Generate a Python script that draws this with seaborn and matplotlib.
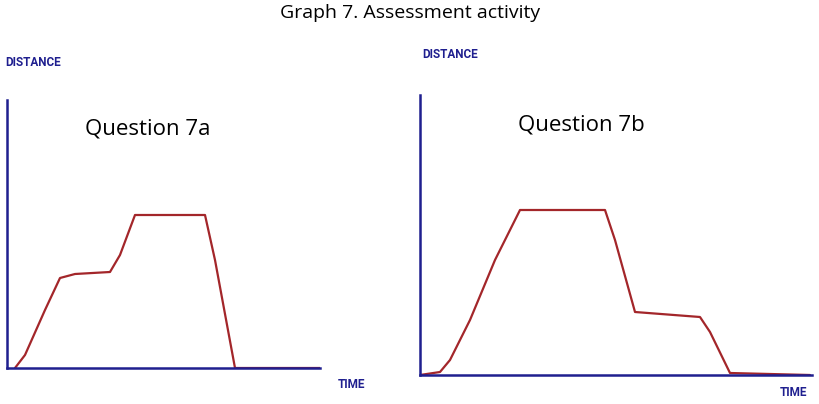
import matplotlib
matplotlib.use("Agg")
import matplotlib.pyplot as plt
import seaborn as sns
import pandas as pd

sns.set_style("white")
plt.rcParams['font.family'] = ['Open Sans', 'DejaVu Sans']

# values (time, distance in arbitrary units)
time_a = [8, 18, 38, 53, 68, 103, 113, 128, 198, 208, 228, 313]
dist_a = [0, 13, 58, 90, 94, 96, 113, 153, 153, 108, 0, 0]
time_b = [0, 20, 30, 50, 75, 100, 185, 195, 215, 280, 290, 310, 390]
dist_b = [0, 3, 15, 55, 115, 165, 165, 135, 63, 58, 43, 2, 0]

W, H = 820, 404
fig = plt.figure(figsize=(8.2, 4.04), dpi=100)
navy = "#1f1f8f"
line_c = "#a3262a"

def px_axes(x0, y0, x1, y1):
    return fig.add_axes([x0 / W, 1 - y1 / H, (x1 - x0) / W, (y1 - y0) / H])

panels = [
    (px_axes(7, 100, 320, 368), time_a, dist_a, 313, 268, "Question 7a"),
    (px_axes(420, 95, 812, 375), time_b, dist_b, 392, 280, "Question 7b"),
]
for ax, t, d, xmax, ymax, label in panels:
    df = pd.DataFrame({"time": t, "distance": d})
    sns.lineplot(data=df, x="time", y="distance", ax=ax, color=line_c, lw=1.6)
    ax.set_xlim(0, xmax)
    ax.set_ylim(0, ymax)
    ax.set_xticks([])
    ax.set_yticks([])
    ax.set_xlabel("")
    ax.set_ylabel("")
    sns.despine(ax=ax)
    for s in ("left", "bottom"):
        ax.spines[s].set_color(navy)
        ax.spines[s].set_linewidth(1.8)
    ax.text(0.25, 0.93, label, transform=ax.transAxes, fontsize=16, va="top",
            color="black")

fig.text(410 / W, 1 - 13 / H, "Graph 7. Assessment activity", ha="center",
         va="center", fontsize=14, color="black")
lab = dict(color=navy, fontsize=8.5, fontweight="bold", family=["Roboto", "DejaVu Sans"])
fig.text(5 / W, 1 - 62 / H, "DISTANCE", va="center", **lab)
fig.text(422 / W, 1 - 55 / H, "DISTANCE", va="center", **lab)
fig.text(338 / W, 1 - 385 / H, "TIME", va="center", **lab)
fig.text(780 / W, 1 - 393 / H, "TIME", va="center", **lab)

fig.savefig("out.png", dpi=100)
